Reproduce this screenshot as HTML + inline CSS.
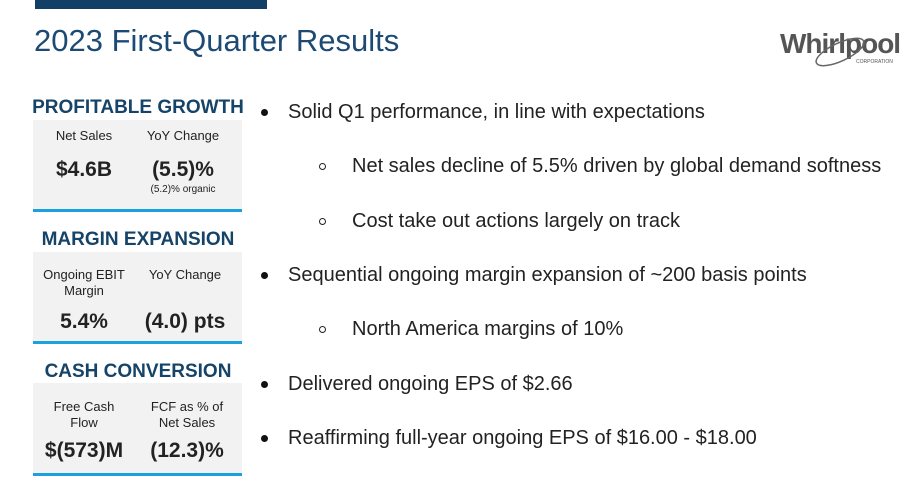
<!DOCTYPE html>
<html><head><meta charset="utf-8"><style>
body{margin:0;width:908px;height:494px;background:#fff;position:relative;overflow:hidden;font-family:"Liberation Sans",sans-serif;}
.a{position:absolute;}
.bar{left:35px;top:0;width:232px;height:9px;background:#123f66;}
.title{left:34px;top:23px;font-size:31px;color:#1d4a75;white-space:nowrap;}
.h{font-weight:bold;color:#164468;font-size:19px;white-space:nowrap;text-align:center;width:212px;left:32px;}
.box{left:33px;width:209px;background:#f2f2f2;border-bottom:3px solid #1ba1dc;}
.c{position:absolute;text-align:center;width:100px;color:#222;}
.lab{font-size:13px;line-height:16px;}
.val{font-size:21px;font-weight:bold;}
.b{font-size:20px;color:#222;white-space:nowrap;}
.dot{width:7px;height:7px;border-radius:50%;background:#111;}
.circ{width:7px;height:7px;border-radius:50%;border:1.3px solid #222;box-sizing:border-box;}
</style></head><body>
<div class="a bar"></div>
<div class="a title">2023 First-Quarter Results</div>
<div class="a" style="left:780px;top:28px;width:125px;height:45px;">
 <div style="position:absolute;left:0;top:0;font-size:28px;font-weight:bold;color:#555;letter-spacing:-1px;">Whirlpool</div>
 <svg width="125" height="45" style="position:absolute;left:0;top:0"><ellipse cx="60" cy="24" rx="26" ry="9" fill="none" stroke="#666" stroke-width="1.5" transform="rotate(-25 60 24)"/></svg>
 <div style="position:absolute;left:76px;top:31px;font-size:5px;color:#555;">CORPORATION</div>
</div>

<div class="a h" style="top:97px">PROFITABLE GROWTH</div>
<div class="a box" style="top:120px;height:89px">
 <div class="c lab" style="left:1px;top:8px">Net Sales</div>
 <div class="c lab" style="left:100px;top:8px">YoY Change</div>
 <div class="c val" style="left:1px;top:38px">$4.6B</div>
 <div class="c val" style="left:100px;top:38px">(5.5)%</div>
 <div class="c" style="left:100px;top:64px;font-size:10px">(5.2)% organic</div>
</div>

<div class="a h" style="top:229px">MARGIN EXPANSION</div>
<div class="a box" style="top:252px;height:89px">
 <div class="c lab" style="left:1px;top:15px">Ongoing EBIT<br>Margin</div>
 <div class="c lab" style="left:102px;top:15px">YoY Change</div>
 <div class="c val" style="left:1px;top:58px">5.4%</div>
 <div class="c val" style="left:102px;top:58px">(4.0) pts</div>
</div>

<div class="a h" style="top:361px">CASH CONVERSION</div>
<div class="a box" style="top:383px;height:90px">
 <div class="c lab" style="left:1px;top:16px">Free Cash<br>Flow</div>
 <div class="c lab" style="left:104px;top:16px">FCF as % of<br>Net Sales</div>
 <div class="c val" style="left:1px;top:56px">$(573)M</div>
 <div class="c val" style="left:104px;top:56px">(12.3)%</div>
</div>

<div class="a dot" style="left:261px;top:109px"></div>
<div class="a b" style="left:288px;top:101px">Solid Q1 performance, in line with expectations</div>
<div class="a circ" style="left:319px;top:163px"></div>
<div class="a b" style="left:352px;top:155px">Net sales decline of 5.5% driven by global demand softness</div>
<div class="a circ" style="left:319px;top:218px"></div>
<div class="a b" style="left:352px;top:210px">Cost take out actions largely on track</div>
<div class="a dot" style="left:261px;top:272px"></div>
<div class="a b" style="left:288px;top:264px">Sequential ongoing margin expansion of ~200 basis points</div>
<div class="a circ" style="left:319px;top:326px"></div>
<div class="a b" style="left:352px;top:318px">North America margins of 10%</div>
<div class="a dot" style="left:261px;top:381px"></div>
<div class="a b" style="left:288px;top:373px">Delivered ongoing EPS of $2.66</div>
<div class="a dot" style="left:261px;top:435px"></div>
<div class="a b" style="left:288px;top:427px">Reaffirming full-year ongoing EPS of $16.00 - $18.00</div>
</body></html>
